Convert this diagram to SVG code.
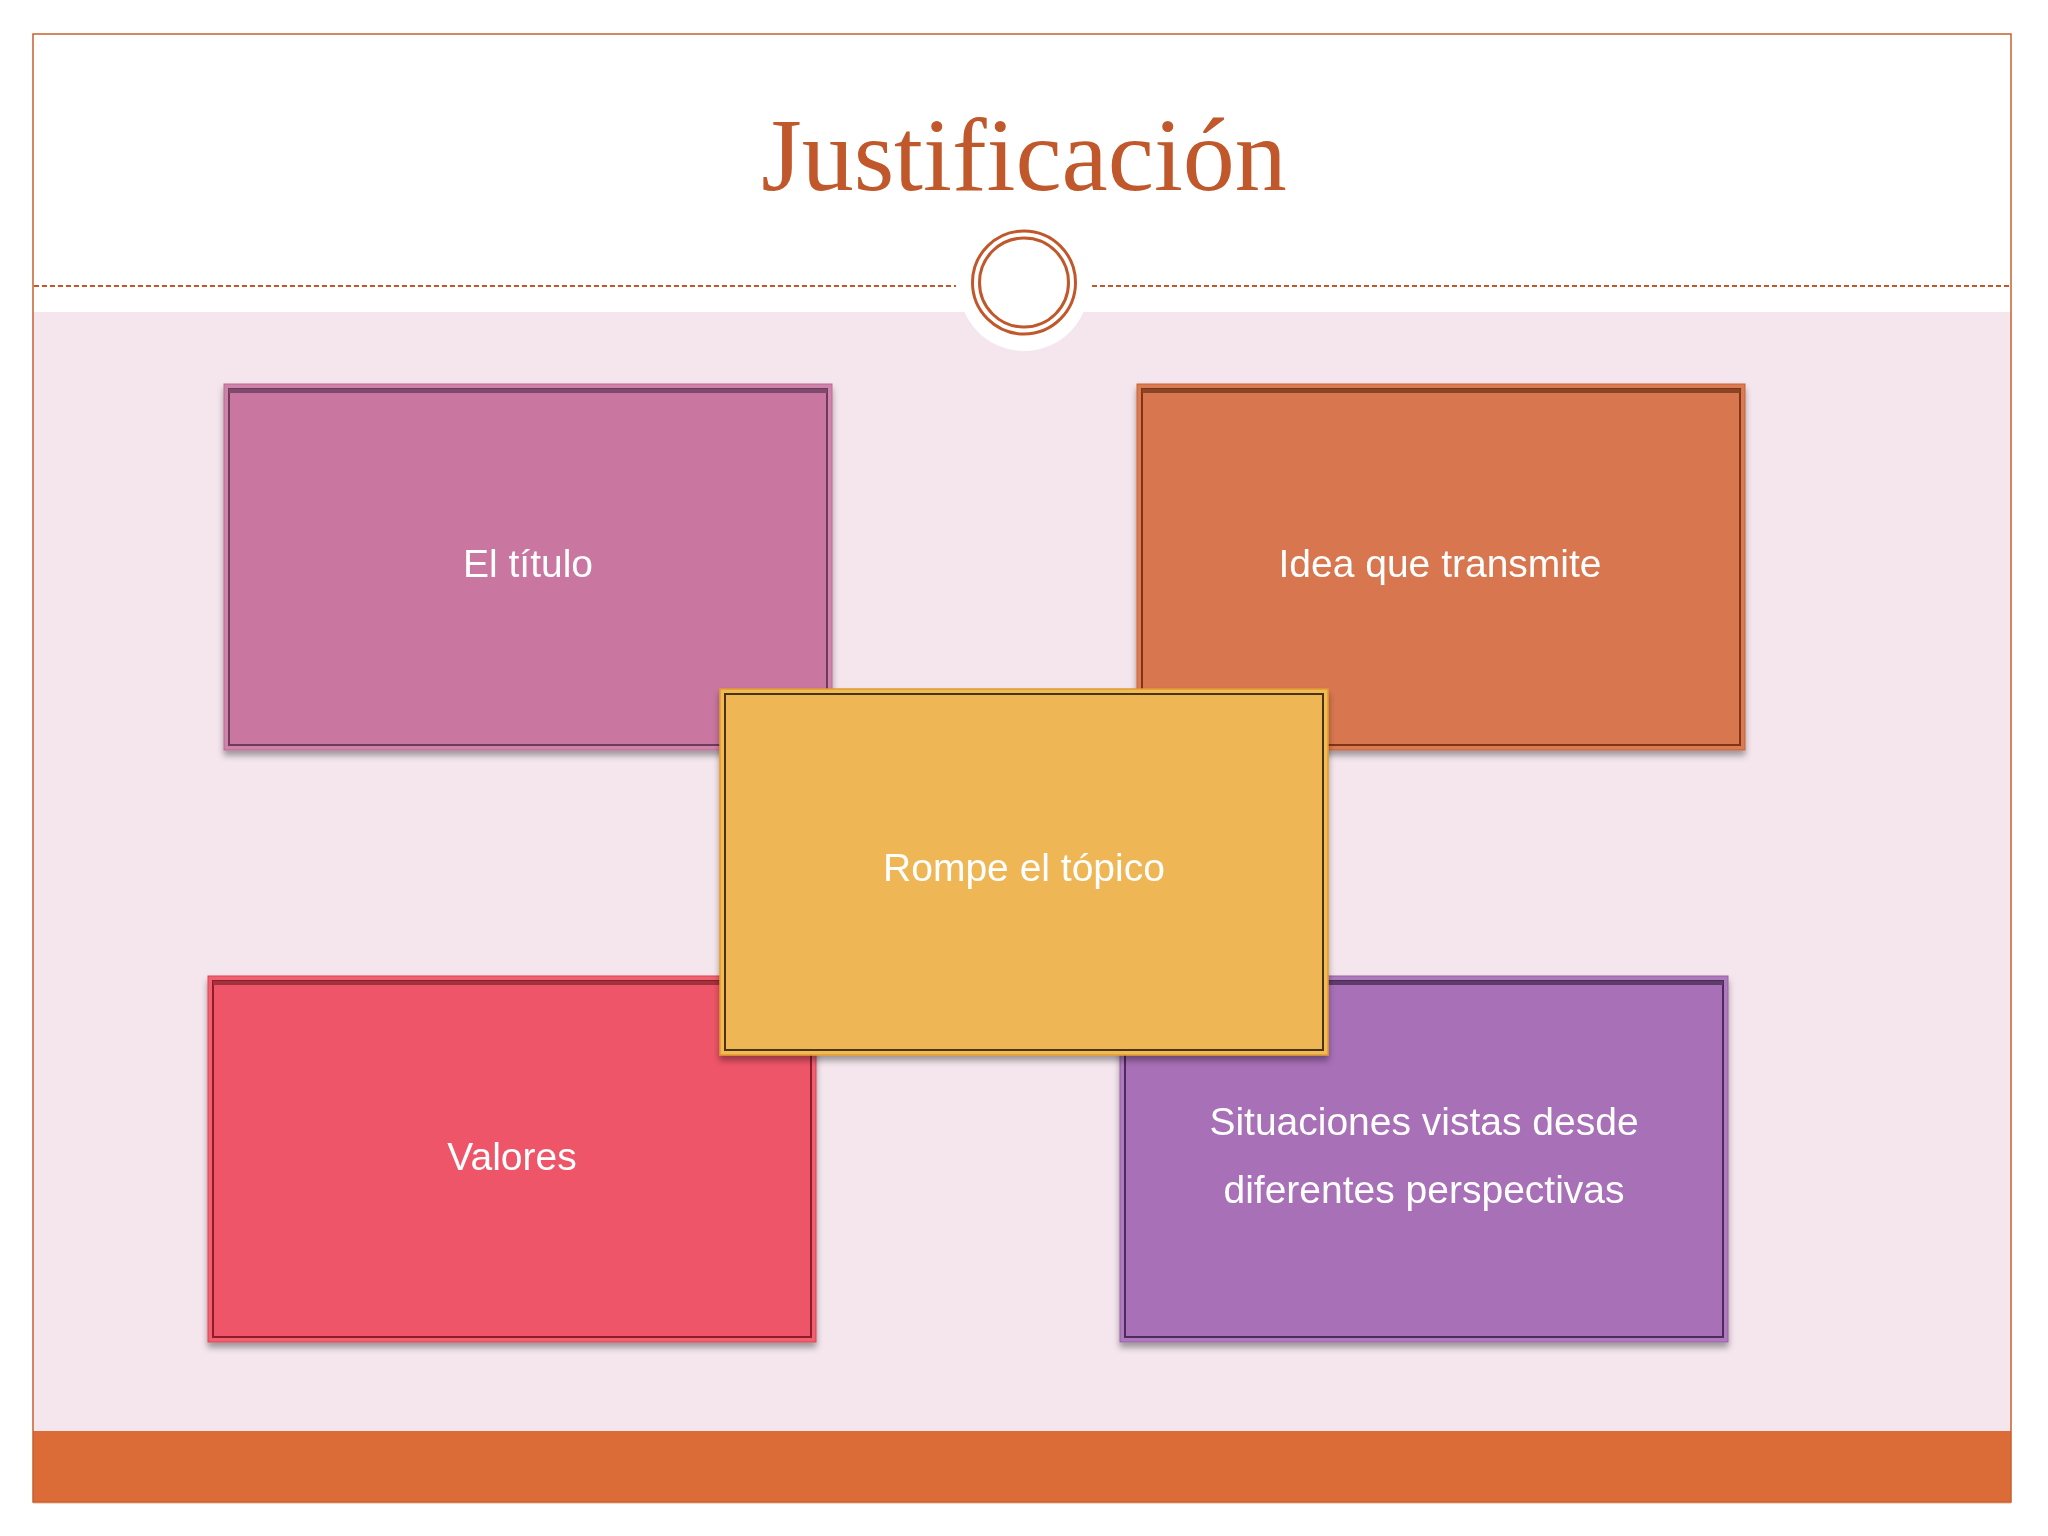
<svg xmlns="http://www.w3.org/2000/svg" width="2048" height="1536" viewBox="0 0 2048 1536">
  <defs>
    <filter id="shadow" x="-5%" y="-5%" width="110%" height="115%">
      <feDropShadow dx="0" dy="5" stdDeviation="3" flood-color="#000000" flood-opacity="0.35"/>
    </filter>
    <style>
      .title { font-family: "Liberation Serif", "Times New Roman", serif; font-size: 104px; fill: #C0582B; text-anchor: middle; }
      .lbl { font-family: "Liberation Sans", Arial, sans-serif; font-size: 39px; fill: #FFFFFF; text-anchor: middle; }
      .inner { stroke-width: 2; }
      .topband { stroke-width: 4; }
    </style>
  </defs>

  <!-- page -->
  <rect x="0" y="0" width="2048" height="1536" fill="#FFFFFF"/>
  <rect x="33" y="312" width="1978" height="1119" fill="#F4E6EC"/>
  <rect x="33" y="1431" width="1978" height="71" fill="#DB6B37"/>
  <line x1="33" y1="1503" x2="2011" y2="1503" stroke="#F5C9B5" stroke-width="1.5"/>
  <rect x="33" y="34" width="1978" height="1468" fill="none" stroke="#C8602E" stroke-width="1.5"/>

  <!-- title -->
  <text class="title" x="1024" y="190">Justificación</text>

  <!-- divider -->
  <g id="divider">
    <line x1="34" y1="286" x2="956" y2="286" stroke="#C0582B" stroke-width="2" stroke-dasharray="5 3"/>
    <line x1="1092" y1="286" x2="2010" y2="286" stroke="#C0582B" stroke-width="2" stroke-dasharray="5 3"/>
    <circle cx="1024" cy="286" r="65" fill="#FFFFFF"/>
    <circle cx="1024" cy="282.5" r="51.5" fill="none" stroke="#C0582B" stroke-width="3"/>
    <circle cx="1024" cy="282.5" r="44.5" fill="none" stroke="#C0582B" stroke-width="3"/>
  </g>

  <!-- El título -->
  <g id="node-titulo" filter="url(#shadow)">
    <rect x="224" y="384" width="608" height="366" fill="#CF83AB" stroke="#B96A93" stroke-width="1"/>
    <rect x="229" y="389" width="598" height="356" fill="#C976A1" stroke="#6E3A5A" class="inner"/>
    <line x1="229" y1="391" x2="827" y2="391" stroke="#7E4C6E" class="topband"/>
    <text class="lbl" x="528" y="577">El título</text>
  </g>

  <!-- Idea que transmite -->
  <g id="node-idea" filter="url(#shadow)">
    <rect x="1137" y="384" width="608" height="366" fill="#DB7A52" stroke="#C56336" stroke-width="1"/>
    <rect x="1142" y="389" width="598" height="356" fill="#D8764F" stroke="#7E3418" class="inner"/>
    <line x1="1142" y1="391" x2="1740" y2="391" stroke="#8A4426" class="topband"/>
    <text class="lbl" x="1440" y="577">Idea que transmite</text>
  </g>

  <!-- Valores -->
  <g id="node-valores" filter="url(#shadow)">
    <rect x="208" y="976" width="608" height="366" fill="#F0606F" stroke="#D84455" stroke-width="1"/>
    <rect x="213" y="981" width="598" height="356" fill="#EF5467" stroke="#8E1E2C" class="inner"/>
    <line x1="213" y1="983" x2="811" y2="983" stroke="#A0303E" class="topband"/>
    <text class="lbl" x="512" y="1170">Valores</text>
  </g>

  <!-- Situaciones -->
  <g id="node-situaciones" filter="url(#shadow)">
    <rect x="1120" y="976" width="608" height="366" fill="#AF7ABD" stroke="#9560A5" stroke-width="1"/>
    <rect x="1125" y="981" width="598" height="356" fill="#A870B7" stroke="#4E2A5C" class="inner"/>
    <line x1="1125" y1="983" x2="1723" y2="983" stroke="#5E3A6C" class="topband"/>
    <text class="lbl" x="1424" y="1135">Situaciones vistas desde</text>
    <text class="lbl" x="1424" y="1203">diferentes perspectivas</text>
  </g>

  <!-- Rompe el tópico -->
  <g id="node-rompe" filter="url(#shadow)">
    <rect x="720" y="689" width="608" height="366" fill="#F2BA52" stroke="#E09A30" stroke-width="1.5"/>
    <rect x="725" y="694" width="598" height="356" fill="#EFB655" stroke="#4A3510" class="inner"/>
    <text class="lbl" x="1024" y="881">Rompe el tópico</text>
  </g>
</svg>
